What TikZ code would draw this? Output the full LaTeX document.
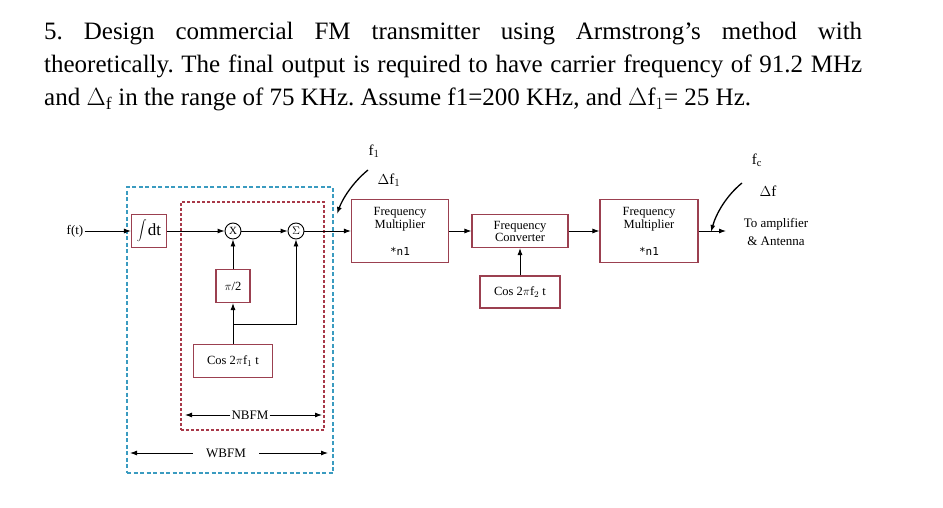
\documentclass[tikz,border=0pt]{standalone}
\usepackage{fontspec}
\setmainfont{Liberation Serif}
\setmonofont{DejaVu Sans Mono}
\usetikzlibrary{arrows.meta}
\definecolor{boxred}{HTML}{9B4050}
\definecolor{dblue}{HTML}{3A9BC0}
\definecolor{dred}{HTML}{A83848}
\frenchspacing
\begin{document}
\begin{tikzpicture}[x=1pt,y=-1pt,
  blk/.style={draw=boxred,line width=1.1pt,inner sep=0pt,align=center,font=\fontsize{12.5}{12}\selectfont},
  circ/.style={draw=black,circle,line width=0.9pt,minimum size=16pt,inner sep=0pt,font=\fontsize{11}{11}\selectfont},
  arr/.style={-{Latex[length=7pt,width=5pt]},line width=0.9pt},
  lbl/.style={font=\fontsize{13}{13}\selectfont,inner sep=1pt}]
\useasboundingbox (0,0) rectangle (943,508);
\node[anchor=north west,inner sep=0pt,text width=818pt,align=justify,font=\fontsize{25}{33}\selectfont] (title) at (44,22)
{5.\ Design commercial FM transmitter using Armstrong’s method with\linebreak theoretically. The final output is required to have carrier frequency of 91.2 MHz\linebreak and $\Delta_{\mathrm{f}}$ in the range of 75 KHz. Assume f1=200 KHz, and $\Delta$f$_1$= 25 Hz.};
% dashed boxes
\node[draw=dblue,dashed,dash pattern=on 4pt off 2.5pt,line width=2.2pt,minimum width=206pt,minimum height=286pt,inner sep=0pt] (wb) at (230,330) {};
\node[draw=dred,dashed,dash pattern=on 3pt off 2pt,line width=1.8pt,minimum width=143pt,minimum height=228pt,inner sep=0pt] (nb) at (252.5,316) {};
% blocks
\node[lbl] (ft) at (75,231) {f(t)};
\node[blk,minimum width=35pt,minimum height=33pt,font=\fontsize{17}{17}\selectfont] (int) at (149,231) {$\displaystyle\int$\kern1pt dt};
\node[circ] (mul) at (233,231) {X};
\node[circ] (sum) at (296,231) {$\Sigma$};
\node[blk,minimum width=34pt,minimum height=33pt] (pi) at (233,286) {$\pi$/2};
\node[blk,minimum width=79pt,minimum height=33pt] (cos1) at (233,361) {Cos 2$\pi$f$_1$ t};
\coordinate (j) at (233,324);
\node[blk,minimum width=97pt,minimum height=63pt] (fm1) at (400,231) {};
\node[font=\fontsize{12.5}{12}\selectfont,align=center] (fm1t) at (400,219) {Frequency\\[1pt]Multiplier};
\node[font=\ttfamily\fontsize{11}{11}\selectfont] (fm1n) at (400,251) {*n1};
\node[blk,minimum width=96pt,minimum height=33pt,font=\fontsize{12.5}{11}\selectfont] (conv) at (520,231) {Frequency\\[1pt]Converter};
\node[blk,minimum width=80pt,minimum height=32pt] (cos2) at (520,292) {Cos 2$\pi$f$_2$ t};
\node[blk,minimum width=98pt,minimum height=63pt] (fm2) at (649,231) {};
\node[font=\fontsize{12.5}{12}\selectfont,align=center] (fm2t) at (649,219) {Frequency\\[1pt]Multiplier};
\node[font=\ttfamily\fontsize{11}{11}\selectfont] (fm2n) at (649,251) {*n1};
\coordinate (out) at (726,231);
\node[lbl,align=center,font=\fontsize{13}{16}\selectfont] (amp) at (776,232) {To amplifier\\[2pt]\& Antenna};
\node[lbl,font=\fontsize{15}{15}\selectfont] (f1) at (374,151) {f$_1$};
\node[lbl,font=\fontsize{15}{15}\selectfont] (df1) at (389,180) {$\Delta$f$_1$};
\node[lbl,font=\fontsize{15}{15}\selectfont] (fc) at (757,160) {f$_\mathrm{c}$};
\node[lbl,font=\fontsize{15}{15}\selectfont] (df) at (768,191) {$\Delta$f};
% connectors
\draw[arr] (ft) -- (int);
\draw[arr] (int) -- (mul);
\draw[arr] (mul) -- (sum);
\draw[arr] (sum) -- (fm1);
\draw[arr] (pi) -- (mul);
\draw[arr] (cos1) -- (pi);
\draw[arr] (j) -| (sum);
\draw[arr] (fm1) -- (conv);
\draw[arr] (cos2) -- (conv);
\draw[arr] (conv) -- (fm2);
\draw[arr] (fm2) -- (out);
\coordinate (a1s) at (368,170); \coordinate (a1e) at (337,214);
\draw[arr,line width=1.3pt] (a1s) .. controls (352,183) and (342,200) .. (a1e);
\coordinate (a2s) at (742,183); \coordinate (a2e) at (711,232);
\draw[arr,line width=1.3pt] (a2s) .. controls (726,196) and (716,214) .. (a2e);
% NBFM / WBFM
\node[lbl] (nbl) at (250,415) {NBFM};
\coordinate (nbL) at (185,415); \coordinate (nbR) at (322,415);
\draw[arr] (nbl) -- (nbL); \draw[arr] (nbl) -- (nbR);
\node[lbl] (wbl) at (226,453) {WBFM};
\coordinate (wbL) at (130,453); \coordinate (wbR) at (328,453);
\draw[arr] (wbl.west)++(-12,0) -- (wbL); \draw[arr] (wbl.east)++(12,0) -- (wbR);
\end{tikzpicture}
\end{document}
